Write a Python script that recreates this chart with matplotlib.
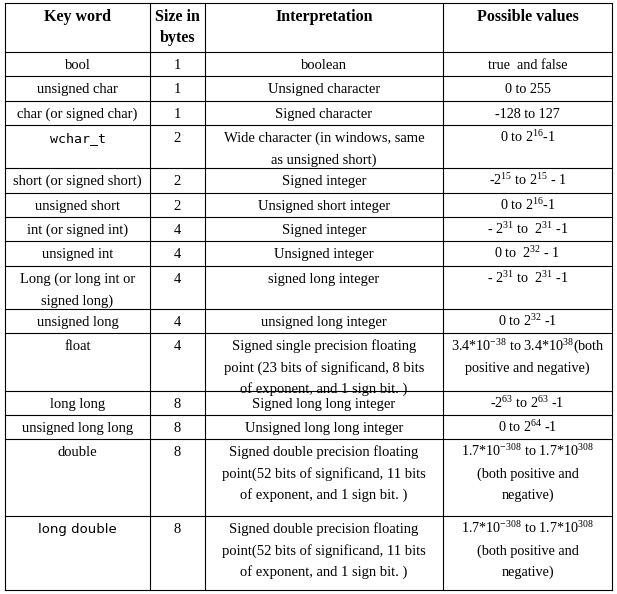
import matplotlib
matplotlib.use("Agg")
import matplotlib.pyplot as plt

plt.rcParams["font.family"] = "Liberation Serif"
plt.rcParams["mathtext.fontset"] = "custom"
plt.rcParams["mathtext.rm"] = "Liberation Serif"

headers = [["Key word"], ["Size in", "bytes"], ["Interpretation"], ["Possible values"]]
keywords = [["bool"], ["unsigned char"], ["char (or signed char)"], ["wchar_t"],
            ["short (or signed short)"], ["unsigned short"], ["int (or signed int)"],
            ["unsigned int"], ["Long (or long int or", "signed long)"], ["unsigned long"],
            ["float"], ["long long"], ["unsigned long long"], ["double"], ["long double"]]
sizes = ["1", "1", "1", "2", "2", "2", "4", "4", "4", "4", "4", "8", "8", "8", "8"]
interps = [["boolean"], ["Unsigned character"], ["Signed character"],
           ["Wide character (in windows, same", "as unsigned short)"],
           ["Signed integer"], ["Unsigned short integer"], ["Signed integer"],
           ["Unsigned integer"], ["signed long integer"], ["unsigned long integer"],
           ["Signed single precision floating", "point (23 bits of significand, 8 bits", "of exponent, and 1 sign bit. )"],
           ["Signed long long integer"], ["Unsigned long long integer"],
           ["Signed double precision floating", "point(52 bits of significand, 11 bits", "of exponent, and 1 sign bit. )"],
           ["Signed double precision floating", "point(52 bits of significand, 11 bits", "of exponent, and 1 sign bit. )"]]
values = [["true  and false"], ["0 to 255"], ["-128 to 127"], ["0 to 2$^{16}$-1"],
          ["-2$^{15}$ to 2$^{15}$ - 1"], ["0 to 2$^{16}$-1"], ["- 2$^{31}$ to  2$^{31}$ -1"],
          ["0 to  2$^{32}$ - 1"], ["- 2$^{31}$ to  2$^{31}$ -1"], ["0 to 2$^{32}$ -1"],
          ["3.4*10$^{-38}$ to 3.4*10$^{38}$(both", "positive and negative)"],
          ["-2$^{63}$ to 2$^{63}$ -1"], ["0 to 2$^{64}$ -1"],
          ["1.7*10$^{-308}$ to 1.7*10$^{308}$", "(both positive and", "negative)"],
          ["1.7*10$^{-308}$ to 1.7*10$^{308}$", "(both positive and", "negative)"]]
mono_rows = {3, 14}

col_x = [5, 150, 205, 443, 612]
row_y = [3, 52, 76, 101, 125, 168, 193, 217, 241, 266, 309, 333, 391, 415, 439, 516, 590]

fig = plt.figure(figsize=(6.17, 5.94), dpi=100)
ax = fig.add_axes([0, 0, 1, 1])
ax.set_xlim(0, 617)
ax.set_ylim(594, 0)
ax.axis("off")

for x in col_x:
    ax.plot([x, x], [row_y[0], row_y[-1]], color="black", lw=0.8)
for y in row_y:
    ax.plot([col_x[0], col_x[-1]], [y, y], color="black", lw=0.8)

def cell(ci, top, lines, base=17, **kw):
    cx = (col_x[ci] + col_x[ci + 1]) / 2
    for k, t in enumerate(lines):
        ax.text(cx, top + base + k * 21.5, t, ha="center", va="baseline", **kw)

for ci, h in enumerate(headers):
    cell(ci, row_y[0], h, base=18, fontsize=11.5, fontweight="bold")

for r in range(len(keywords)):
    top = row_y[r + 1]
    if r in mono_rows:
        cell(0, top, keywords[r], fontsize=9.5, family="DejaVu Sans Mono" if r == 3 else "DejaVu Sans")
    else:
        cell(0, top, keywords[r], fontsize=10.5)
    cell(1, top, [sizes[r]], fontsize=10.5)
    cell(2, top, interps[r], fontsize=10.5)
    cell(3, top, values[r], fontsize=10.2)

fig.savefig("out.png", dpi=100)
